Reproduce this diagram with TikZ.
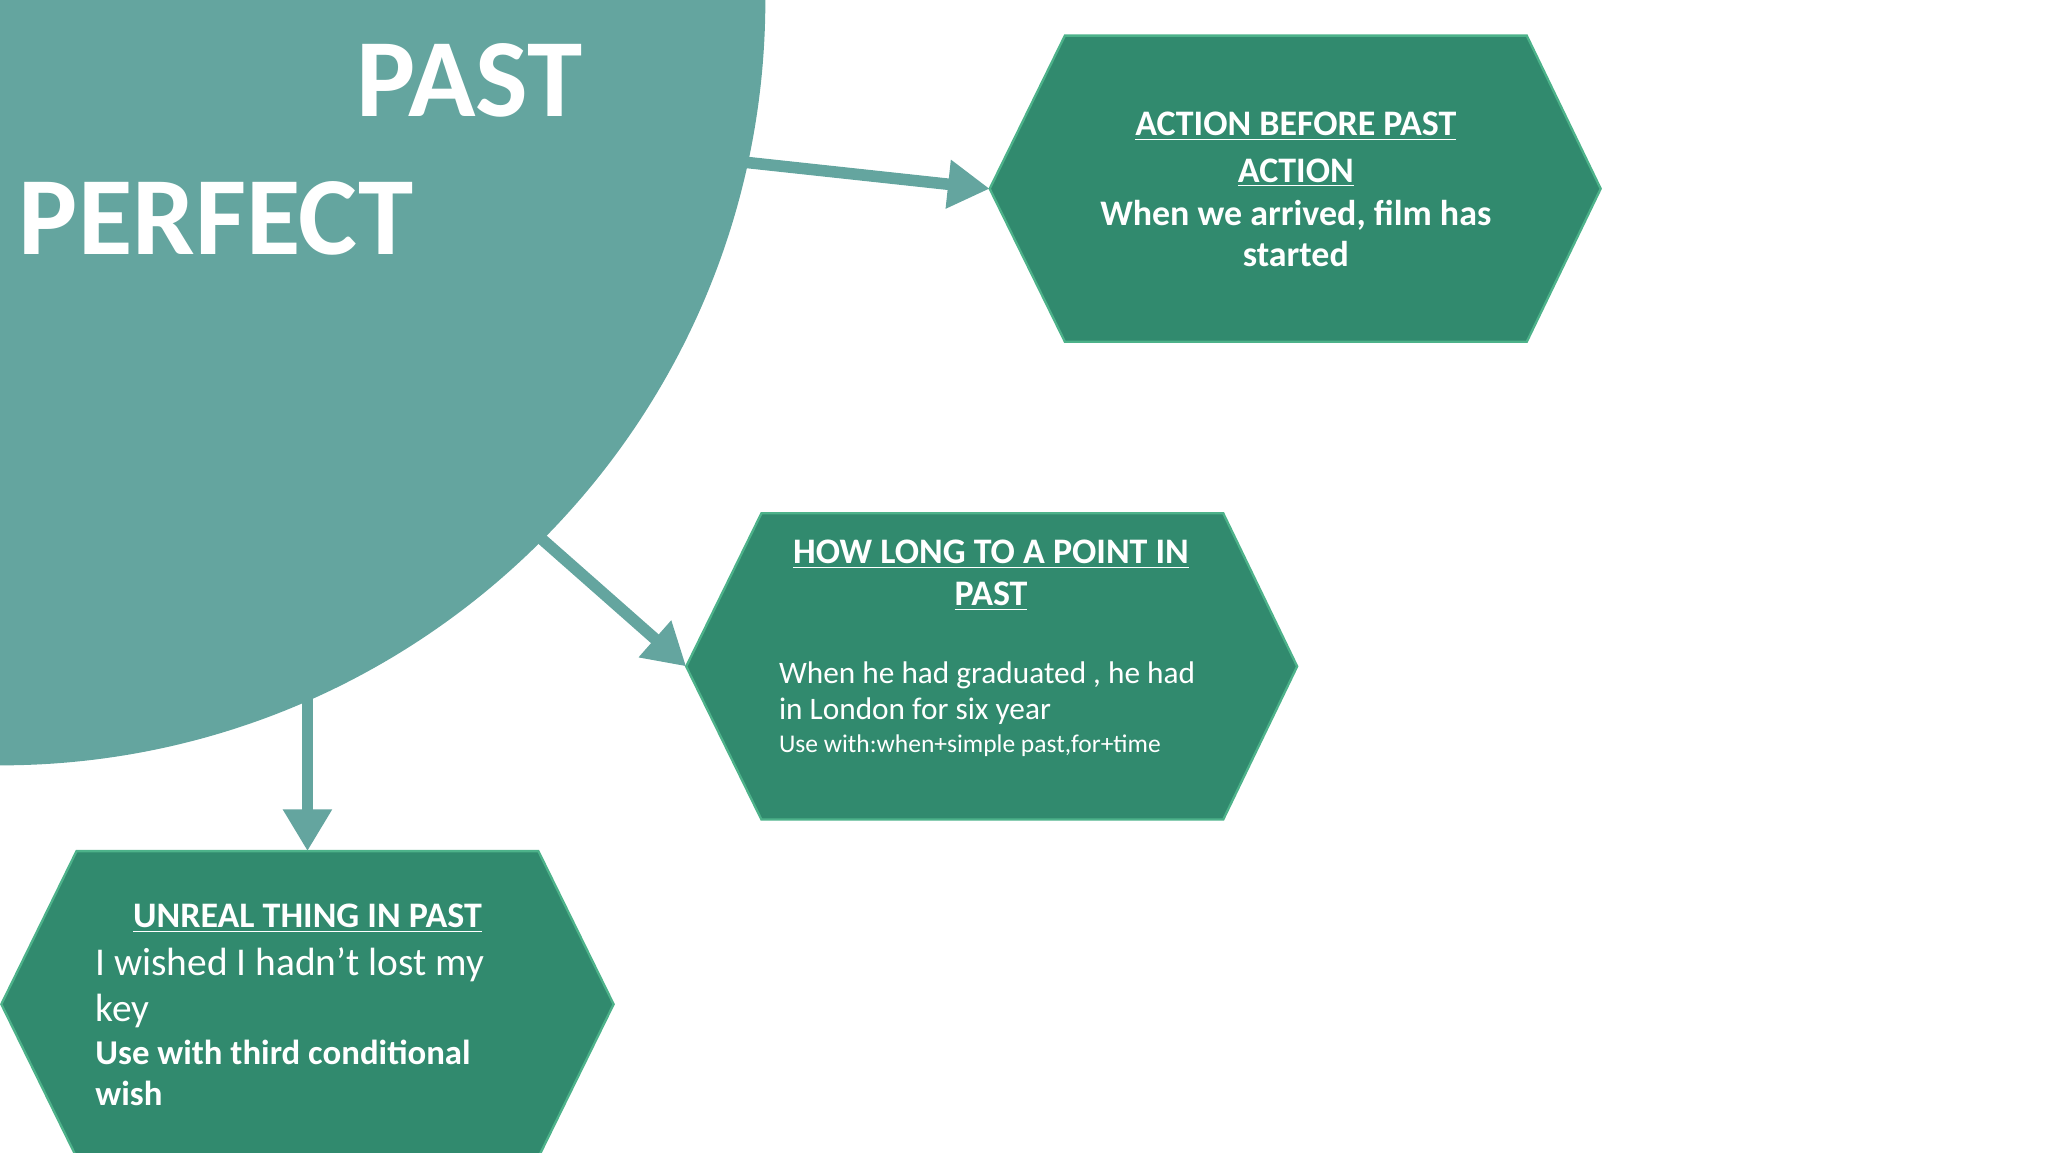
\documentclass[tikz,border=0pt]{standalone}
\usepackage{fontspec}
\usetikzlibrary{arrows.meta}
\setmainfont{Carlito}
\definecolor{circ}{HTML}{64A59F}
\definecolor{hexf}{HTML}{318A6E}
\definecolor{hexd}{HTML}{4DB28A}
\begin{document}
\begin{tikzpicture}[x=0.02cm,y=-0.02cm,
  hex/.style={fill=hexf,draw=hexd,line width=1pt},
  arr/.style={draw=circ,line width=5pt,-{Triangle[length=18pt,width=20pt]}},
  t/.style={text=white,inner sep=0pt},
  big/.style={t,font=\fontsize{48}{48}\selectfont\bfseries}]
\useasboundingbox (0,0) rectangle (1552,873);
\clip (0,0) rectangle (1552,873);
\fill[circ] (0,0) circle (580);
\node[big,anchor=base west] (past) at (270,88) {PAST};
\node[big,anchor=base west] (perf) at (14,193) {PERFECT};
% hexagons
\coordinate (h1w) at (750,143); \coordinate (h2w) at (520,505); \coordinate (h3n) at (233,645);
\draw[hex] (807,27)--(1157,27)--(1213,143)--(1157,259)--(807,259)--(h1w)--cycle;
\draw[hex] (577,389)--(927,389)--(983,505)--(927,621)--(577,621)--(h2w)--cycle;
\draw[hex] (58,645)--(408,645)--(465,761)--(408,877)--(58,877)--(1,761)--cycle;
\coordinate (a1) at (565,123); \coordinate (a2) at (410,408); \coordinate (a3) at (233,528);
\draw[arr] (a1)--(h1w);
\draw[arr] (a2)--(h2w);
\draw[arr] (a3)--(h3n);
% top text
\begin{scope}[every node/.style={t,anchor=base,font=\fontsize{15.5}{16}\selectfont\bfseries}]
\node (t1) at (982,103) {\underline{ACTION BEFORE PAST}};
\node (t2) at (982,138) {\underline{ACTION}};
\node (t3) at (982,171) {When we arrived, film has};
\node (t4) at (982,202) {started};
\node (m1) at (751,427) {\underline{HOW LONG TO A POINT IN}};
\node (m2) at (751,459) {\underline{PAST}};
\node (b1) at (233,703) {\underline{UNREAL THING IN PAST}};
\end{scope}
\begin{scope}[every node/.style={t,anchor=base west}]
\node[font=\fontsize{13.5}{14}\selectfont] (m3) at (590,518) {When he had graduated , he had};
\node[font=\fontsize{13.5}{14}\selectfont] (m4) at (590,545) {in London for six year};
\node[font=\fontsize{11}{12}\selectfont] (m5) at (590,570) {Use with:when+simple past,for+time};
\node[font=\fontsize{17}{18}\selectfont] (b2) at (72,739) {I wished I hadn’t lost my};
\node[font=\fontsize{17}{18}\selectfont] (b3) at (72,774) {key};
\node[font=\fontsize{15}{16}\selectfont\bfseries] (b4) at (72,807) {Use with third conditional};
\node[font=\fontsize{15}{16}\selectfont\bfseries] (b5) at (72,838) {wish};
\end{scope}
\end{tikzpicture}
\end{document}
